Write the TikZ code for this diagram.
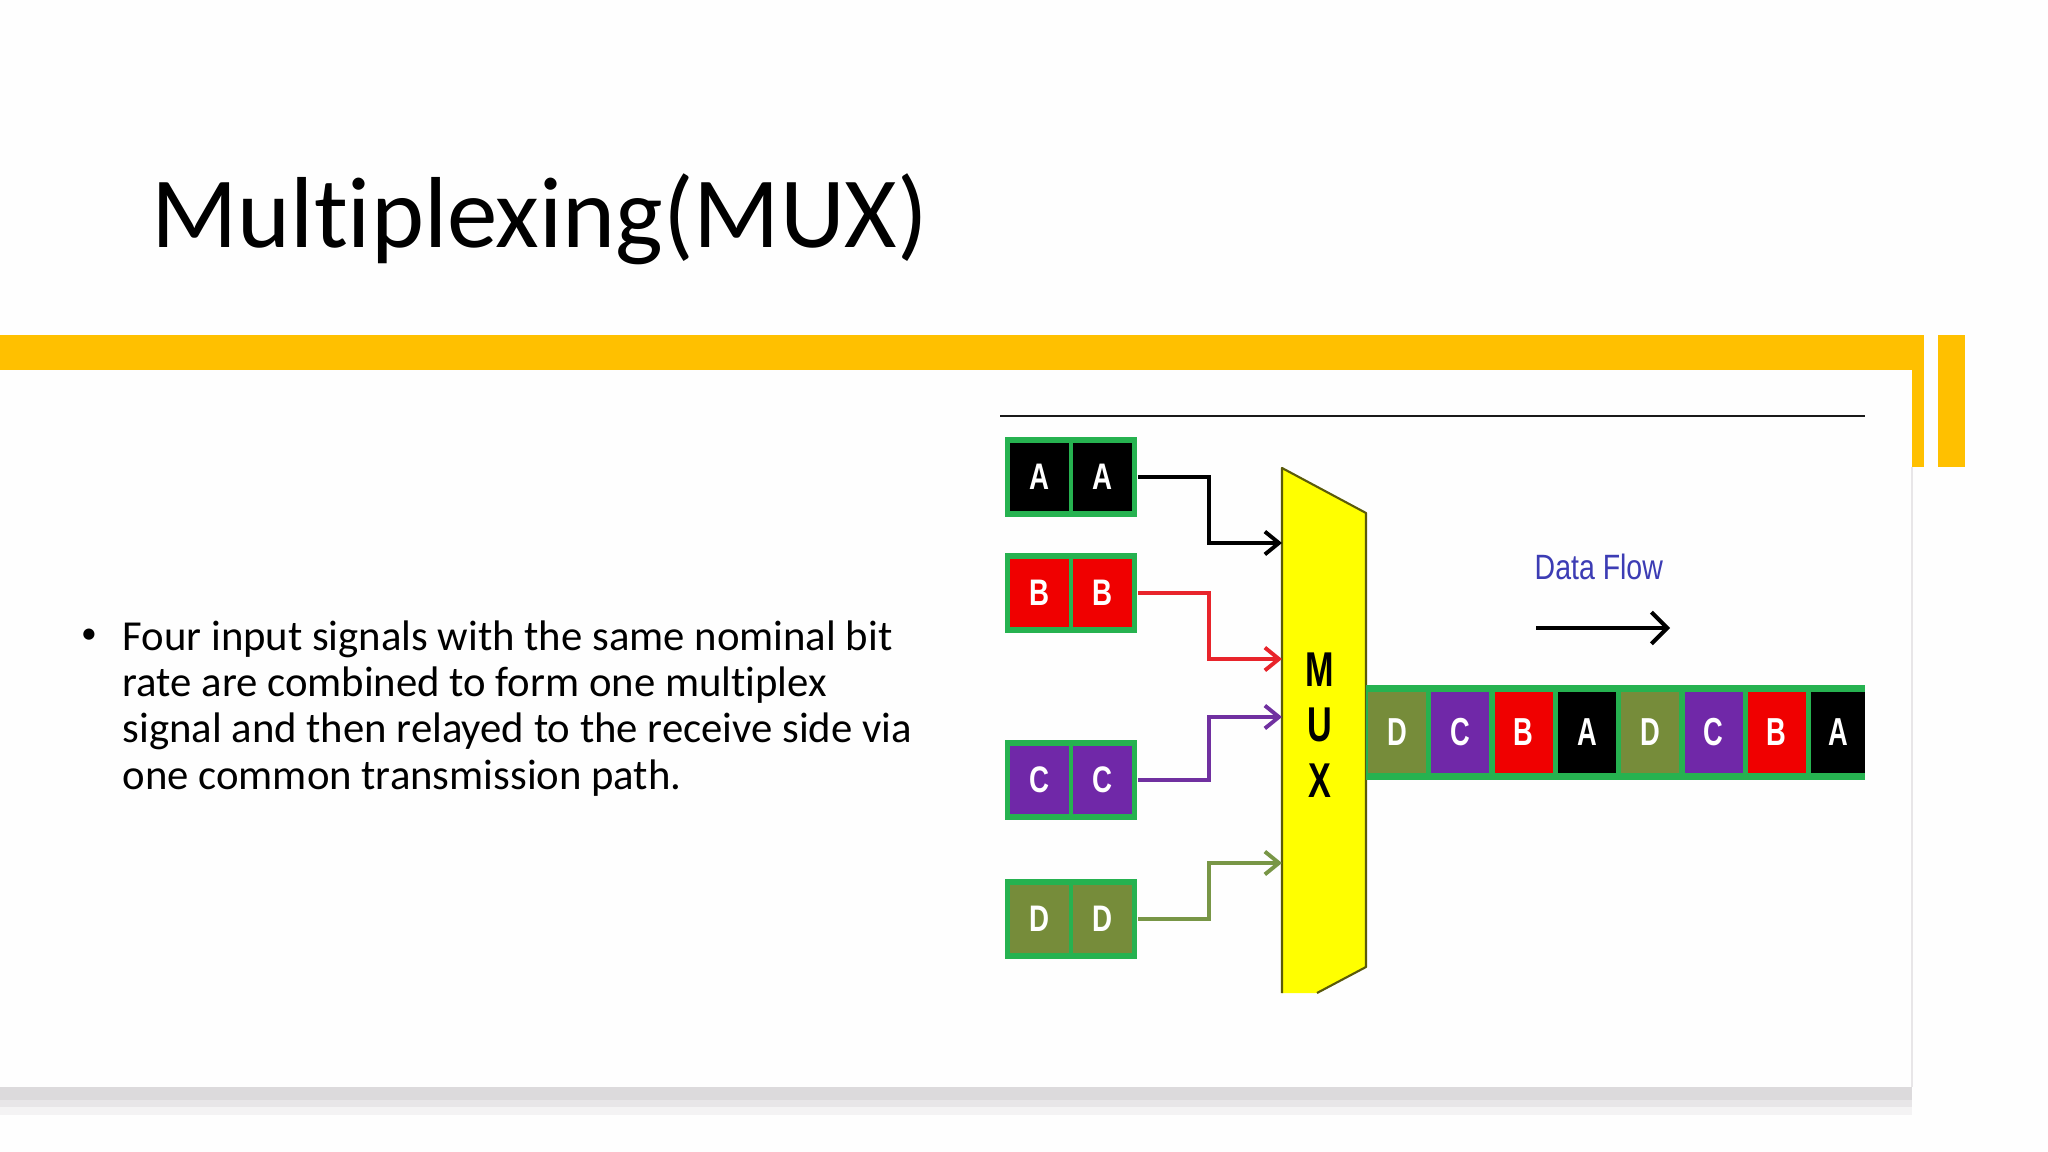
\documentclass[tikz,border=0pt]{standalone}
\usepackage{fontspec}
\usepackage{graphicx}
\setmainfont{Carlito}[Ligatures={NoCommon}]
\newfontfamily\lsans{Liberation Sans}
\usetikzlibrary{arrows.meta}
\definecolor{pagebg}{RGB}{254,254,254}
\definecolor{gold}{RGB}{255,192,0}
\definecolor{fgreen}{RGB}{38,178,80}
\definecolor{cred}{RGB}{240,0,0}
\definecolor{cpurple}{RGB}{112,40,168}
\definecolor{colive}{RGB}{118,140,58}
\definecolor{lred}{RGB}{232,36,43}
\definecolor{lpurple}{RGB}{112,48,160}
\definecolor{lolive}{RGB}{120,150,70}
\definecolor{muxy}{RGB}{255,255,0}
\definecolor{muxedge}{RGB}{90,90,10}
\definecolor{flowblue}{RGB}{60,60,180}
\definecolor{shadeA}{RGB}{220,218,220}
\definecolor{shadeB}{RGB}{232,230,232}
\definecolor{shadeC}{RGB}{244,243,244}
\newcommand{\narrowtxt}[2]{\scalebox{#1}[1]{#2}}
\tikzset{
  frame/.style={fill=fgreen, inner sep=0pt, minimum width=1.32cm, minimum height=0.80cm},
  incell/.style={inner sep=0pt, minimum width=0.59cm, minimum height=0.67cm, text=white,
    font=\lsans\bfseries\fontsize{10.5}{10}\selectfont},
  outcell/.style={inner sep=0pt, minimum width=0.58cm, minimum height=0.81cm, text=white,
    font=\lsans\bfseries\fontsize{11.1}{11}\selectfont},
  muxletter/.style={inner sep=0pt, text=black, font=\lsans\bfseries\fontsize{13.9}{14}\selectfont},
  conn/.style={line width=1.15pt, -{Straight Barb[length=4pt,width=6.5pt,line width=1.1pt]}},
  bodyline/.style={anchor=base west, inner sep=0pt, font=\fontsize{12.15}{14}\selectfont},
}
\begin{document}
\begin{tikzpicture}[x=0.01cm,y=-0.01cm]
\useasboundingbox (0,0) rectangle (2048,1152);
\fill[pagebg] (0,0) rectangle (2048,1152);
% panel shadow
\fill[shadeA] (0,1087) rectangle (1912,1100);
\fill[shadeB] (0,1100) rectangle (1912,1107);
\fill[shadeC] (0,1107) rectangle (1912,1115);
\draw[shadeB, line width=0.5pt] (1912,467) -- (1912,1087);
% gold bars
\fill[gold] (0,335) rectangle (1924,370);
\fill[gold] (1912,335) rectangle (1924,467);
\fill[gold] (1938,335) rectangle (1965,467);
% title
\node[anchor=base west, inner sep=0pt, font=\fontsize{28.7}{35}\selectfont] (title) at (151,248) {Multiplexing(MUX)};
% body
\node[inner sep=0pt, font=\fontsize{9}{9}\selectfont] (bul) at (89,636) {•};
\node[bodyline] (l1) at (122,650) {Four input signals with the same nominal bit};
\node[bodyline] (l2) at (122,696) {rate are combined to form one multiplex};
\node[bodyline] (l3) at (122,742) {signal and then relayed to the receive side via};
\node[bodyline] (l4) at (122,789) {one common transmission path.};
% top rule of figure
\coordinate (r1) at (1000,416);
\coordinate (r2) at (1865,416);
\draw[line width=0.7pt, black!90] (r1) -- (r2);
% MUX shape
\fill[muxy] (1282,468) -- (1366,513) -- (1366,967) -- (1317,993) -- (1282,993) -- cycle;
\draw[muxedge, line width=0.6pt, line join=round] (1282,993) -- (1282,468) -- (1366,513) -- (1366,967) -- (1317,993);
\node[muxletter] (mM) at (1320,669.5) {\narrowtxt{0.7}{M}};
\node[muxletter] (mU) at (1320,725) {\narrowtxt{0.7}{U}};
\node[muxletter] (mX) at (1320,780.5) {\narrowtxt{0.7}{X}};
\coordinate (mA) at (1282,543);
\coordinate (mB) at (1282,659);
\coordinate (mC) at (1282,717);
\coordinate (mD) at (1282,863);
% input boxes
\node[frame] (fA) at (1071,477) {};
\node[incell, fill=black] (a1) at (1039.5,477) {\narrowtxt{0.75}{A}};
\node[incell, fill=black] (a2) at (1102.5,477) {\narrowtxt{0.75}{A}};
\node[frame] (fB) at (1071,593) {};
\node[incell, fill=cred] (b1) at (1039.5,593) {\narrowtxt{0.75}{B}};
\node[incell, fill=cred] (b2) at (1102.5,593) {\narrowtxt{0.75}{B}};
\node[frame] (fC) at (1071,780) {};
\node[incell, fill=cpurple] (c1) at (1039.5,780) {\narrowtxt{0.75}{C}};
\node[incell, fill=cpurple] (c2) at (1102.5,780) {\narrowtxt{0.75}{C}};
\node[frame] (fD) at (1071,919) {};
\node[incell, fill=colive] (d1) at (1039.5,919) {\narrowtxt{0.75}{D}};
\node[incell, fill=colive] (d2) at (1102.5,919) {\narrowtxt{0.75}{D}};
% connectors
\draw[conn, black] (fA.east) -- ++(71,0) |- (mA);
\draw[conn, lred] (fB.east) -- ++(71,0) |- (mB);
\draw[conn, lpurple] (fC.east) -- ++(71,0) |- (mC);
\draw[conn, lolive] (fD.east) -- ++(71,0) |- (mD);
% output stream
\node[fill=fgreen, inner sep=0pt, minimum width=4.99cm, minimum height=0.95cm] (stream) at (1615.5,732.5) {};
\node[outcell, fill=colive] (s1) at (1397,732.5) {\narrowtxt{0.7}{D}};
\node[outcell, fill=cpurple] (s2) at (1460.3,732.5) {\narrowtxt{0.7}{C}};
\node[outcell, fill=cred] (s3) at (1523.6,732.5) {\narrowtxt{0.7}{B}};
\node[outcell, fill=black] (s4) at (1586.9,732.5) {\narrowtxt{0.7}{A}};
\node[outcell, fill=colive] (s5) at (1650.2,732.5) {\narrowtxt{0.7}{D}};
\node[outcell, fill=cpurple] (s6) at (1713.5,732.5) {\narrowtxt{0.7}{C}};
\node[outcell, fill=cred] (s7) at (1776.8,732.5) {\narrowtxt{0.7}{B}};
\node[outcell, fill=black, minimum width=0.54cm] (s8) at (1838,732.5) {\narrowtxt{0.7}{A}};
% data flow
\node[anchor=base west, inner sep=0pt, text=flowblue, font=\lsans\fontsize{10}{10}\selectfont] (df) at (1534,580) {\narrowtxt{0.81}{Data Flow}};
\coordinate (df1) at (1536,628);
\coordinate (df2) at (1670,628);
\draw[line width=1.15pt, -{Straight Barb[length=4.5pt,width=9pt,line width=1.15pt]}] (df1) -- (df2);
\end{tikzpicture}
\end{document}
